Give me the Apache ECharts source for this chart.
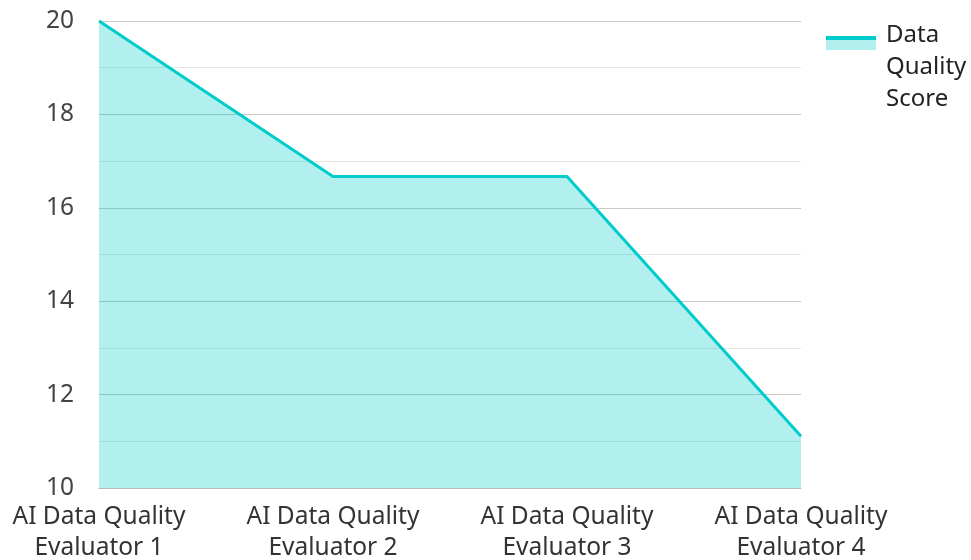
<!DOCTYPE html>
<html><head><meta charset="utf-8">
<script src="https://cdn.jsdelivr.net/npm/echarts@6/dist/echarts.min.js"></script>
<style>html,body{margin:0;padding:0;background:#fff}#c{width:971px;height:560px}</style>
</head><body><div id="c"></div>
<script>
var categories = ['AI Data Quality\nEvaluator 1','AI Data Quality\nEvaluator 2','AI Data Quality\nEvaluator 3','AI Data Quality\nEvaluator 4'];
var scores = [20, 16.67, 16.67, 11.11];
var seriesName = 'Data Quality Score';
var icon = 'image://data:image/svg+xml;charset=utf-8,' + encodeURIComponent('<svg xmlns="http://www.w3.org/2000/svg" width="55" height="96"><rect x="0" y="20" width="50" height="11" fill="#b2efee"/><rect x="0" y="17" width="50" height="4" fill="#00cccc"/></svg>');
var chart = echarts.init(document.getElementById('c'));
chart.setOption({
  animation:false,
  textStyle:{fontFamily:'Noto Sans'},
  grid:{left:99,right:170,top:21,bottom:72,containLabel:false,outerBoundsMode:'none'},
  legend:{left:826,top:19,padding:0,orient:'vertical',itemWidth:55,itemHeight:96,itemGap:10,
    data:[{name:seriesName,icon:icon}],
    formatter:function(n){return n.split(' ').join('\n');},
    textStyle:{fontSize:24,color:'#222',lineHeight:32,align:'left'}},
  xAxis:{type:'category',data:categories,boundaryGap:false,
    axisLine:{show:true,lineStyle:{color:'#bbbbbb',width:1}},axisTick:{show:false},
    axisLabel:{fontSize:24.5,color:'#333',lineHeight:31,margin:14,interval:0}},
  yAxis:{type:'value',min:10,max:20,interval:2,
    axisLine:{show:false},axisTick:{show:false},
    axisLabel:{fontSize:24.5,color:'#444',margin:25},
    splitLine:{lineStyle:{color:'#c8c8c8',width:1}},
    minorTick:{show:false,splitNumber:2},
    minorSplitLine:{show:true,lineStyle:{color:'#e6e6e6',width:1}}},
  series:[{name:seriesName,type:'line',data:scores,symbol:'none',
    lineStyle:{color:'#00cccc',width:3},itemStyle:{color:'#00cccc'},
    areaStyle:{color:'#00cccc',opacity:0.3}, z:1}]
});
</script></body></html>
